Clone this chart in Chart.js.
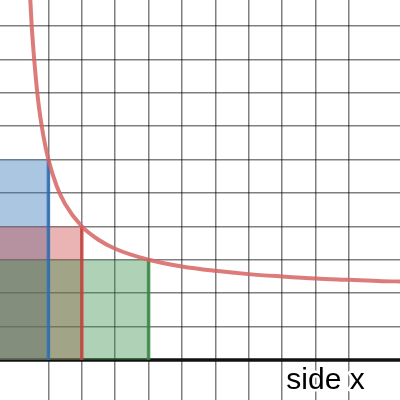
<!DOCTYPE html>
<html>
<head>
<meta charset="utf-8">
<script src="https://cdn.jsdelivr.net/npm/chart.js@4/dist/chart.umd.min.js"></script>
<style>
  html, body { margin: 0; padding: 0; background: #fff; }
  #wrap { width: 400px; height: 400px; }
</style>
</head>
<body>
<div id="wrap"><canvas id="chart"></canvas></div>
<script>
// curve
const curveX = [0.42, 0.5, 0.6, 0.7, 0.8, 0.9, 1, 1.25, 1.5, 2, 2.5, 3, 4, 5, 6, 7, 8, 9, 10, 11, 11.6];
const curveY = [11.5, 10, 8.7, 7.7, 7, 6.45, 6, 5.2, 4.67, 4, 3.6, 3.33, 3, 2.8, 2.67, 2.57, 2.5, 2.44, 2.4, 2.36, 2.35];

// rectangles: right edge and height (green listed first so it draws on top)
const rectNames = ['green', 'red', 'blue'];
const rectRight = [4, 2, 1];
const rectHeight = [3, 4, 6];
const rectColors = ['56,140,70', '199,68,64', '45,112,179'];

const xMin = -0.45, xMax = 11.53, yMin = -1.2, yMax = 10.78;

const datasets = [];
datasets.push({
  label: 'curve',
  data: curveX.map((x, i) => ({ x, y: curveY[i] })),
  borderColor: 'rgba(215,100,100,0.85)',
  borderWidth: 4,
  pointRadius: 0,
  cubicInterpolationMode: 'monotone',
  fill: false
});
rectNames.forEach((name, i) => {
  datasets.push({
    label: name + ' side',
    data: [{ x: rectRight[i], y: 0 }, { x: rectRight[i], y: rectHeight[i] }],
    borderColor: `rgba(${rectColors[i]},0.85)`,
    borderWidth: 3.5,
    pointRadius: 0,
    fill: false
  });
});
rectNames.forEach((name, i) => {
  datasets.push({
    label: name + ' area',
    data: [{ x: xMin - 1, y: rectHeight[i] }, { x: rectRight[i], y: rectHeight[i] }],
    borderWidth: 0,
    pointRadius: 0,
    backgroundColor: `rgba(${rectColors[i]},0.4)`,
    fill: 'origin'
  });
});

const keepIntegers = (scale) => {
  scale.ticks = scale.ticks.filter(t => Math.abs(t.value - Math.round(t.value)) < 1e-6);
};

const axisPlugin = {
  id: 'axisAndLabel',
  beforeDatasetsDraw(chart) {
    const { ctx, chartArea, scales } = chart;
    const y0 = scales.y.getPixelForValue(0);
    ctx.save();
    ctx.strokeStyle = '#111';
    ctx.lineWidth = 3.5;
    ctx.beginPath();
    ctx.moveTo(chartArea.left, y0);
    ctx.lineTo(chartArea.right, y0);
    ctx.stroke();
    ctx.restore();
  },
  afterDatasetsDraw(chart) {
    const { ctx, scales } = chart;
    ctx.save();
    ctx.font = '30px "Liberation Sans", Arial, sans-serif';
    ctx.textAlign = 'center';
    ctx.textBaseline = 'middle';
    const px = scales.x.getPixelForValue(9.3);
    const py = scales.y.getPixelForValue(-0.62);
    ctx.lineWidth = 5;
    ctx.strokeStyle = '#fff';
    ctx.lineJoin = 'round';
    ctx.strokeText('side x', px, py);
    ctx.fillStyle = '#000';
    ctx.fillText('side x', px, py);
    ctx.restore();
  }
};

new Chart(document.getElementById('chart'), {
  type: 'scatter',
  data: { datasets },
  plugins: [axisPlugin],
  options: {
    responsive: true,
    maintainAspectRatio: false,
    animation: false,
    showLine: true,
    layout: { padding: 0 },
    plugins: { legend: { display: false }, tooltip: { enabled: false } },
    scales: {
      x: {
        type: 'linear', min: xMin, max: xMax,
        ticks: { display: false, stepSize: 1 },
        afterBuildTicks: keepIntegers,
        grid: { color: 'rgba(0,0,0,0.5)', lineWidth: 1.5, drawTicks: false },
        border: { display: false }
      },
      y: {
        type: 'linear', min: yMin, max: yMax,
        ticks: { display: false, stepSize: 1 },
        afterBuildTicks: keepIntegers,
        grid: { color: 'rgba(0,0,0,0.5)', lineWidth: 1.5, drawTicks: false },
        border: { display: false }
      }
    }
  }
});
</script>
</body>
</html>
